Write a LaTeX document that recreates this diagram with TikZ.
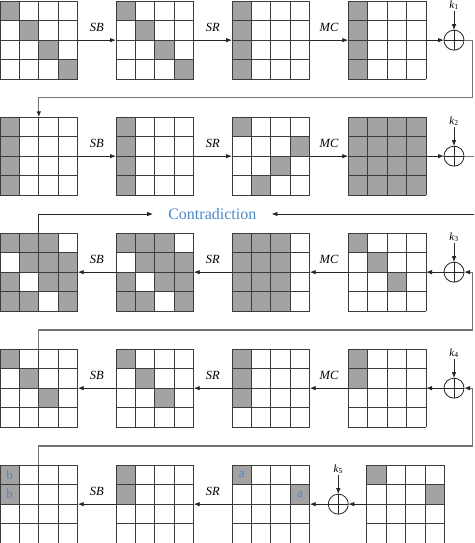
\documentclass[tikz,border=0pt]{standalone}
\usepackage{fontspec}
\setmainfont{Liberation Serif}
\usetikzlibrary{arrows.meta}
\definecolor{cellgray}{RGB}{163,163,163}
\definecolor{txtblue}{RGB}{75,135,200}
\definecolor{gline}{RGB}{60,60,60}
\definecolor{loopc}{RGB}{115,115,115}
\tikzset{
 cellfill/.style={fill=cellgray},
 gridline/.style={draw=gline, line width=0.8pt},
 arr/.style={draw=black!85, line width=0.8pt, -{Latex[length=6pt,width=4.5pt]}},
 loopline/.style={draw=loopc, line width=1.1pt},
 looparr/.style={loopline, -{Latex[length=6pt,width=4.5pt,color=black!85]}},
 xorc/.style={circle, draw=black!85, line width=0.8pt, minimum size=20pt, inner sep=0pt, outer sep=0pt},
 oplab/.style={font=\fontsize{12.5}{12.5}\selectfont\itshape, inner sep=0pt, midway, yshift=13pt},
 klab/.style={font=\fontsize{11}{11}\selectfont, inner sep=1pt},
 celltext/.style={text=txtblue, font=\fontsize{13}{13}\selectfont, inner sep=0pt},
 contr/.style={text=txtblue, font=\fontsize{16}{16}\selectfont, inner xsep=15pt, inner ysep=2pt},
}
\newcommand\mkgrid[4]{%
 \node[minimum size=77.7pt, inner sep=0pt, outer sep=0pt] (#1) at (#2,#3) {};
 \begin{scope}[shift={(#1.north west)}]
 \foreach \c/\r in {#4} {\fill[cellfill] ({(\c-1)*19.425},{(\r-1)*19.425}) rectangle ++(19.425,19.425);}
 \foreach \i in {0,...,4} {\draw[gridline] ({\i*19.425},0) -- ({\i*19.425},77.7); \draw[gridline] (0,{\i*19.425}) -- (77.7,{\i*19.425});}
 \end{scope}}
\newcommand\mkxor[4]{%
 \node[xorc] (#1) at (#3,#4) {};
 \draw[black!85, line width=0.8pt] (#1.north) -- (#1.south) (#1.west) -- (#1.east);
 \node[klab] (k#2) at (#3,#4-35) {\textit{k}\textsubscript{#2}};
 \draw[arr] (k#2) -- (#1.north);}
\begin{document}
\begin{tikzpicture}[x=1pt,y=-1pt]
\useasboundingbox (0,0) rectangle (474,543);
% row 1
\mkgrid{g11}{38.85}{40.15}{1/1,2/2,3/3,4/4}
\mkgrid{g12}{154.85}{40.15}{1/1,2/2,3/3,4/4}
\mkgrid{g13}{270.85}{40.15}{1/1,1/2,1/3,1/4}
\mkgrid{g14}{387.15}{40.15}{1/1,1/2,1/3,1/4}
\mkxor{x1}{1}{454}{40.15}
% row 2
\mkgrid{g21}{38.85}{156.15}{1/1,1/2,1/3,1/4}
\mkgrid{g22}{154.85}{156.15}{1/1,1/2,1/3,1/4}
\mkgrid{g23}{270.85}{156.15}{1/1,4/2,3/3,2/4}
\mkgrid{g24}{387.15}{156.15}{1/1,2/1,3/1,4/1,1/2,2/2,3/2,4/2,1/3,2/3,3/3,4/3,1/4,2/4,3/4,4/4}
\mkxor{x2}{2}{454}{156.15}
% row 3
\mkgrid{g31}{38.85}{272.15}{1/1,2/1,3/1,2/2,3/2,4/2,1/3,3/3,4/3,1/4,2/4,4/4}
\mkgrid{g32}{154.85}{272.15}{1/1,2/1,3/1,2/2,3/2,4/2,1/3,3/3,4/3,1/4,2/4,4/4}
\mkgrid{g33}{270.85}{272.15}{1/1,2/1,3/1,1/2,2/2,3/2,1/3,2/3,3/3,1/4,2/4,3/4}
\mkgrid{g34}{387.15}{272.15}{1/1,2/2,3/3}
\mkxor{x3}{3}{454}{272.15}
% row 4
\mkgrid{g41}{38.85}{388.15}{1/1,2/2,3/3}
\mkgrid{g42}{154.85}{388.15}{1/1,2/2,3/3}
\mkgrid{g43}{270.85}{388.15}{1/1,1/2,1/3}
\mkgrid{g44}{387.15}{388.15}{1/1,1/2}
\mkxor{x4}{4}{454}{388.15}
% row 5
\mkgrid{g51}{38.85}{504.15}{1/1,1/2}
\mkgrid{g52}{154.85}{504.15}{1/1,1/2}
\mkgrid{g53}{270.85}{504.15}{1/1,4/2}
\mkgrid{g54}{405.55}{504.15}{1/1,4/2}
\mkxor{x5}{5}{338.3}{504.15}
\node[celltext] (b1) at (9.7,475) {b};
\node[celltext] (b2) at (9.7,494.4) {b};
\node[celltext] (a1) at (241.7,475) {a};
\node[celltext] (a2) at (300,494.4) {a};
% contradiction
\node[contr] (contra) at (212.3,214) {Contradiction};
\coordinate (cR) at (474,214);
\coordinate (e2) at (474,156.15);
\coordinate (c1) at (472.7,97.7);
\coordinate (c4) at (472.7,330);
\coordinate (c5) at (472.7,446);
% row 1 arrows
\draw[arr] (g11.east) -- node[oplab] {SB} (g12.west);
\draw[arr] (g12.east) -- node[oplab] {SR} (g13.west);
\draw[arr] (g13.east) -- node[oplab] {MC} (g14.west);
\draw[arr] (g14.east) -- (x1.west);
\draw[looparr] (x1.east) -| (c1) -| (g21.north);
% row 2 arrows
\draw[arr] (g21.east) -- node[oplab] {SB} (g22.west);
\draw[arr] (g22.east) -- node[oplab] {SR} (g23.west);
\draw[arr] (g23.east) -- node[oplab] {MC} (g24.west);
\draw[arr] (g24.east) -- (x2.west);
\draw[loopline] (x2.east) -- (e2);
% row 3 arrows
\draw[arr] (cR) -- (contra.east);
\draw[arr] (g31.north) |- (contra.west);
\draw[arr] (x3.west) -- (g34.east);
\draw[arr] (g34.west) -- node[oplab] {MC} (g33.east);
\draw[arr] (g33.west) -- node[oplab] {SR} (g32.east);
\draw[arr] (g32.west) -- node[oplab] {SB} (g31.east);
\draw[looparr] (g41.north) |- (c4) |- (x3.east);
% row 4 arrows
\draw[arr] (x4.west) -- (g44.east);
\draw[arr] (g44.west) -- node[oplab] {MC} (g43.east);
\draw[arr] (g43.west) -- node[oplab] {SR} (g42.east);
\draw[arr] (g42.west) -- node[oplab] {SB} (g41.east);
\draw[looparr] (g51.north) |- (c5) |- (x4.east);
% row 5 arrows
\draw[arr] (g54.west) -- (x5.east);
\draw[arr] (x5.west) -- (g53.east);
\draw[arr] (g53.west) -- node[oplab] {SR} (g52.east);
\draw[arr] (g52.west) -- node[oplab] {SB} (g51.east);
\end{tikzpicture}
\end{document}
